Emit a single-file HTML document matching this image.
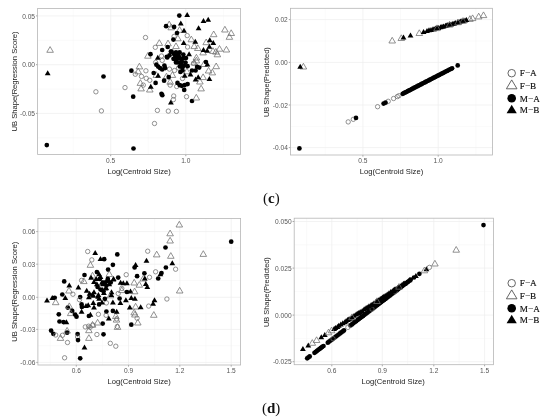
<!DOCTYPE html>
<html><head><meta charset="utf-8"><title>Figure</title>
<style>
html,body{margin:0;padding:0;background:#fff;}
body{width:550px;height:419px;overflow:hidden;}
svg{display:block;filter:blur(0.35px);}
.tk{font-family:"Liberation Sans",Arial,sans-serif;font-size:6.6px;fill:#555;}
.ti{font-family:"Liberation Sans",Arial,sans-serif;font-size:7.6px;fill:#222;}
.lg{font-family:"Liberation Serif","Times New Roman",serif;font-size:9.2px;fill:#111;stroke:#111;stroke-width:0.15px;}
.cap{font-family:"Liberation Serif","Times New Roman",serif;font-size:15px;fill:#111;}
</style></head><body>
<svg width="550" height="419" viewBox="0 0 550 419">
<rect width="550" height="419" fill="#fff"/>

<g id="tl">
<line x1="73.2" x2="73.2" y1="8.4" y2="154.6" stroke="#f5f5f5" stroke-width="0.5"/>
<line x1="148.2" x2="148.2" y1="8.4" y2="154.6" stroke="#f5f5f5" stroke-width="0.5"/>
<line x1="223.4" x2="223.4" y1="8.4" y2="154.6" stroke="#f5f5f5" stroke-width="0.5"/>
<line y1="40.3" y2="40.3" x1="37.6" x2="240.5" stroke="#f5f5f5" stroke-width="0.5"/>
<line y1="89.1" y2="89.1" x1="37.6" x2="240.5" stroke="#f5f5f5" stroke-width="0.5"/>
<line y1="137.8" y2="137.8" x1="37.6" x2="240.5" stroke="#f5f5f5" stroke-width="0.5"/>
<line x1="110.7" x2="110.7" y1="8.4" y2="154.6" stroke="#eeeeee" stroke-width="0.7"/>
<line x1="110.7" x2="110.7" y1="154.6" y2="156.2" stroke="#6a6a6a" stroke-width="0.6"/>
<text class="tk" x="110.7" y="162.7" text-anchor="middle">0.5</text>
<line x1="185.8" x2="185.8" y1="8.4" y2="154.6" stroke="#eeeeee" stroke-width="0.7"/>
<line x1="185.8" x2="185.8" y1="154.6" y2="156.2" stroke="#6a6a6a" stroke-width="0.6"/>
<text class="tk" x="185.8" y="162.7" text-anchor="middle">1.0</text>
<line y1="15.9" y2="15.9" x1="37.6" x2="240.5" stroke="#eeeeee" stroke-width="0.7"/>
<line y1="15.9" y2="15.9" x1="36.0" x2="37.6" stroke="#6a6a6a" stroke-width="0.6"/>
<text class="tk" x="35.0" y="18.5" text-anchor="end">0.05</text>
<line y1="64.7" y2="64.7" x1="37.6" x2="240.5" stroke="#eeeeee" stroke-width="0.7"/>
<line y1="64.7" y2="64.7" x1="36.0" x2="37.6" stroke="#6a6a6a" stroke-width="0.6"/>
<text class="tk" x="35.0" y="67.3" text-anchor="end">0.00</text>
<line y1="113.4" y2="113.4" x1="37.6" x2="240.5" stroke="#eeeeee" stroke-width="0.7"/>
<line y1="113.4" y2="113.4" x1="36.0" x2="37.6" stroke="#6a6a6a" stroke-width="0.6"/>
<text class="tk" x="35.0" y="116.0" text-anchor="end">-0.05</text>
<polygon points="50.1,46.6 46.8,52.3 53.4,52.3" fill="none" stroke="#6e6e6e" stroke-width="0.75"/>
<polygon points="47.7,70.3 44.8,75.3 50.6,75.3" fill="#000"/>
<circle cx="103.5" cy="76.5" r="2.35" fill="#000"/>
<circle cx="131.4" cy="70.7" r="2.35" fill="#000"/>
<circle cx="95.9" cy="91.8" r="2.2" fill="none" stroke="#6e6e6e" stroke-width="0.75"/>
<circle cx="125.0" cy="87.6" r="2.2" fill="none" stroke="#6e6e6e" stroke-width="0.75"/>
<circle cx="133.2" cy="96.7" r="2.35" fill="#000"/>
<circle cx="101.4" cy="110.9" r="2.2" fill="none" stroke="#6e6e6e" stroke-width="0.75"/>
<circle cx="46.8" cy="145.1" r="2.35" fill="#000"/>
<circle cx="133.5" cy="148.5" r="2.35" fill="#000"/>
<circle cx="157.4" cy="110.4" r="2.2" fill="none" stroke="#6e6e6e" stroke-width="0.75"/>
<circle cx="168.3" cy="111.1" r="2.2" fill="none" stroke="#6e6e6e" stroke-width="0.75"/>
<circle cx="176.4" cy="111.4" r="2.2" fill="none" stroke="#6e6e6e" stroke-width="0.75"/>
<circle cx="154.5" cy="123.5" r="2.2" fill="none" stroke="#6e6e6e" stroke-width="0.75"/>
<polygon points="170.9,99.5 168.0,104.5 173.8,104.5" fill="#000"/>
<circle cx="192.0" cy="101.0" r="2.35" fill="#000"/>
<circle cx="186.5" cy="96.7" r="2.2" fill="none" stroke="#6e6e6e" stroke-width="0.75"/>
<polygon points="196.3,94.3 193.0,100.0 199.6,100.0" fill="none" stroke="#6e6e6e" stroke-width="0.75"/>
<circle cx="173.7" cy="96.0" r="2.2" fill="none" stroke="#6e6e6e" stroke-width="0.75"/>
<circle cx="173.4" cy="99.6" r="2.2" fill="none" stroke="#6e6e6e" stroke-width="0.75"/>
<circle cx="184.2" cy="89.9" r="2.35" fill="#000"/>
<circle cx="161.5" cy="93.8" r="2.35" fill="#000"/>
<circle cx="162.3" cy="95.2" r="2.35" fill="#000"/>
<polygon points="201.1,85.2 197.8,90.9 204.4,90.9" fill="none" stroke="#6e6e6e" stroke-width="0.75"/>
<polygon points="169.2,21.1 165.9,26.8 172.5,26.8" fill="none" stroke="#6e6e6e" stroke-width="0.75"/>
<polygon points="171.2,24.1 167.9,29.8 174.5,29.8" fill="none" stroke="#6e6e6e" stroke-width="0.75"/>
<polygon points="179.6,26.6 176.3,32.3 182.9,32.3" fill="none" stroke="#6e6e6e" stroke-width="0.75"/>
<circle cx="145.5" cy="37.5" r="2.2" fill="none" stroke="#6e6e6e" stroke-width="0.75"/>
<circle cx="187.2" cy="35.6" r="2.2" fill="none" stroke="#6e6e6e" stroke-width="0.75"/>
<polygon points="191.3,36.1 188.0,41.8 194.6,41.8" fill="none" stroke="#6e6e6e" stroke-width="0.75"/>
<circle cx="174.1" cy="36.4" r="2.2" fill="none" stroke="#6e6e6e" stroke-width="0.75"/>
<polygon points="177.9,35.1 174.6,40.8 181.2,40.8" fill="none" stroke="#6e6e6e" stroke-width="0.75"/>
<polygon points="159.3,39.7 156.0,45.4 162.6,45.4" fill="none" stroke="#6e6e6e" stroke-width="0.75"/>
<polygon points="168.0,40.1 164.7,45.8 171.3,45.8" fill="none" stroke="#6e6e6e" stroke-width="0.75"/>
<circle cx="155.3" cy="47.3" r="2.2" fill="none" stroke="#6e6e6e" stroke-width="0.75"/>
<circle cx="187.6" cy="47.0" r="2.2" fill="none" stroke="#6e6e6e" stroke-width="0.75"/>
<polygon points="176.0,42.9 172.7,48.6 179.3,48.6" fill="none" stroke="#6e6e6e" stroke-width="0.75"/>
<polygon points="194.2,42.9 190.9,48.6 197.5,48.6" fill="none" stroke="#6e6e6e" stroke-width="0.75"/>
<polygon points="197.8,44.8 194.5,50.5 201.1,50.5" fill="none" stroke="#6e6e6e" stroke-width="0.75"/>
<polygon points="147.9,52.5 144.6,58.2 151.2,58.2" fill="none" stroke="#6e6e6e" stroke-width="0.75"/>
<circle cx="161.5" cy="56.0" r="2.2" fill="none" stroke="#6e6e6e" stroke-width="0.75"/>
<polygon points="196.4,54.3 193.1,60.0 199.7,60.0" fill="none" stroke="#6e6e6e" stroke-width="0.75"/>
<polygon points="194.2,59.3 190.9,65.0 197.5,65.0" fill="none" stroke="#6e6e6e" stroke-width="0.75"/>
<polygon points="139.4,63.2 136.1,68.9 142.7,68.9" fill="none" stroke="#6e6e6e" stroke-width="0.75"/>
<polygon points="224.9,26.3 221.6,32.0 228.2,32.0" fill="none" stroke="#6e6e6e" stroke-width="0.75"/>
<polygon points="231.2,29.8 227.9,35.5 234.5,35.5" fill="none" stroke="#6e6e6e" stroke-width="0.75"/>
<polygon points="229.4,33.6 226.1,39.3 232.7,39.3" fill="none" stroke="#6e6e6e" stroke-width="0.75"/>
<polygon points="213.7,31.0 210.4,36.7 217.0,36.7" fill="none" stroke="#6e6e6e" stroke-width="0.75"/>
<polygon points="206.2,39.0 202.9,44.7 209.5,44.7" fill="none" stroke="#6e6e6e" stroke-width="0.75"/>
<polygon points="219.5,45.5 216.2,51.2 222.8,51.2" fill="none" stroke="#6e6e6e" stroke-width="0.75"/>
<polygon points="226.4,46.3 223.1,52.0 229.7,52.0" fill="none" stroke="#6e6e6e" stroke-width="0.75"/>
<polygon points="213.0,47.7 209.7,53.4 216.3,53.4" fill="none" stroke="#6e6e6e" stroke-width="0.75"/>
<polygon points="215.9,48.4 212.6,54.1 219.2,54.1" fill="none" stroke="#6e6e6e" stroke-width="0.75"/>
<polygon points="217.4,51.1 214.1,56.8 220.7,56.8" fill="none" stroke="#6e6e6e" stroke-width="0.75"/>
<polygon points="203.1,49.2 199.8,54.9 206.4,54.9" fill="none" stroke="#6e6e6e" stroke-width="0.75"/>
<polygon points="204.0,60.8 200.7,66.5 207.3,66.5" fill="none" stroke="#6e6e6e" stroke-width="0.75"/>
<polygon points="216.2,63.0 212.9,68.7 219.5,68.7" fill="none" stroke="#6e6e6e" stroke-width="0.75"/>
<polygon points="196.4,57.2 193.1,62.9 199.7,62.9" fill="none" stroke="#6e6e6e" stroke-width="0.75"/>
<circle cx="193.5" cy="63.3" r="2.2" fill="none" stroke="#6e6e6e" stroke-width="0.75"/>
<circle cx="155.6" cy="62.5" r="2.2" fill="none" stroke="#6e6e6e" stroke-width="0.75"/>
<circle cx="162.2" cy="60.4" r="2.2" fill="none" stroke="#6e6e6e" stroke-width="0.75"/>
<polygon points="138.2,68.1 134.9,73.8 141.5,73.8" fill="none" stroke="#6e6e6e" stroke-width="0.75"/>
<circle cx="145.9" cy="70.8" r="2.2" fill="none" stroke="#6e6e6e" stroke-width="0.75"/>
<circle cx="135.3" cy="74.2" r="2.2" fill="none" stroke="#6e6e6e" stroke-width="0.75"/>
<circle cx="141.5" cy="76.4" r="2.2" fill="none" stroke="#6e6e6e" stroke-width="0.75"/>
<circle cx="146.2" cy="78.3" r="2.2" fill="none" stroke="#6e6e6e" stroke-width="0.75"/>
<circle cx="149.8" cy="80.3" r="2.2" fill="none" stroke="#6e6e6e" stroke-width="0.75"/>
<circle cx="169.5" cy="69.1" r="2.2" fill="none" stroke="#6e6e6e" stroke-width="0.75"/>
<polygon points="172.4,71.7 169.1,77.4 175.7,77.4" fill="none" stroke="#6e6e6e" stroke-width="0.75"/>
<polygon points="166.5,73.2 163.2,78.9 169.8,78.9" fill="none" stroke="#6e6e6e" stroke-width="0.75"/>
<polygon points="140.4,79.7 137.1,85.4 143.7,85.4" fill="none" stroke="#6e6e6e" stroke-width="0.75"/>
<circle cx="143.3" cy="85.1" r="2.2" fill="none" stroke="#6e6e6e" stroke-width="0.75"/>
<polygon points="141.1,85.2 137.8,90.9 144.4,90.9" fill="none" stroke="#6e6e6e" stroke-width="0.75"/>
<polygon points="149.8,86.3 146.5,92.0 153.1,92.0" fill="none" stroke="#6e6e6e" stroke-width="0.75"/>
<circle cx="170.2" cy="85.1" r="2.2" fill="none" stroke="#6e6e6e" stroke-width="0.75"/>
<circle cx="176.7" cy="86.5" r="2.2" fill="none" stroke="#6e6e6e" stroke-width="0.75"/>
<polygon points="170.2,78.5 166.9,84.2 173.5,84.2" fill="none" stroke="#6e6e6e" stroke-width="0.75"/>
<circle cx="182.5" cy="78.5" r="2.2" fill="none" stroke="#6e6e6e" stroke-width="0.75"/>
<polygon points="186.9,68.1 183.6,73.8 190.2,73.8" fill="none" stroke="#6e6e6e" stroke-width="0.75"/>
<polygon points="208.6,67.3 205.3,73.0 211.9,73.0" fill="none" stroke="#6e6e6e" stroke-width="0.75"/>
<polygon points="212.3,69.2 209.0,74.9 215.6,74.9" fill="none" stroke="#6e6e6e" stroke-width="0.75"/>
<polygon points="203.1,73.9 199.8,79.6 206.4,79.6" fill="none" stroke="#6e6e6e" stroke-width="0.75"/>
<polygon points="199.9,78.3 196.6,84.0 203.2,84.0" fill="none" stroke="#6e6e6e" stroke-width="0.75"/>
<polygon points="156.3,71.7 153.0,77.4 159.6,77.4" fill="none" stroke="#6e6e6e" stroke-width="0.75"/>
<circle cx="178.5" cy="68.0" r="2.2" fill="none" stroke="#6e6e6e" stroke-width="0.75"/>
<circle cx="174.5" cy="70.5" r="2.2" fill="none" stroke="#6e6e6e" stroke-width="0.75"/>
<circle cx="179.3" cy="15.6" r="2.35" fill="#000"/>
<polygon points="187.2,12.0 184.3,17.0 190.1,17.0" fill="#000"/>
<polygon points="180.8,20.5 177.9,25.5 183.7,25.5" fill="#000"/>
<circle cx="166.1" cy="26.2" r="2.35" fill="#000"/>
<circle cx="174.1" cy="26.9" r="2.35" fill="#000"/>
<polygon points="184.0,27.7 181.1,32.7 186.9,32.7" fill="#000"/>
<polygon points="198.6,25.3 195.7,30.3 201.5,30.3" fill="#000"/>
<circle cx="177.0" cy="33.0" r="2.35" fill="#000"/>
<circle cx="173.4" cy="39.6" r="2.35" fill="#000"/>
<polygon points="183.7,40.1 180.8,45.1 186.6,45.1" fill="#000"/>
<polygon points="195.3,38.8 192.4,43.8 198.2,43.8" fill="#000"/>
<circle cx="167.7" cy="47.0" r="2.35" fill="#000"/>
<circle cx="162.2" cy="50.0" r="2.35" fill="#000"/>
<circle cx="150.5" cy="54.2" r="2.35" fill="#000"/>
<polygon points="157.8,54.7 154.9,59.7 160.7,59.7" fill="#000"/>
<circle cx="166.8" cy="56.8" r="2.35" fill="#000"/>
<circle cx="170.9" cy="51.6" r="2.35" fill="#000"/>
<polygon points="189.1,51.2 186.2,56.2 192.0,56.2" fill="#000"/>
<circle cx="156.4" cy="64.7" r="2.35" fill="#000"/>
<circle cx="158.1" cy="66.6" r="2.35" fill="#000"/>
<circle cx="160.0" cy="68.1" r="2.35" fill="#000"/>
<circle cx="162.2" cy="69.5" r="2.35" fill="#000"/>
<circle cx="164.4" cy="65.5" r="2.35" fill="#000"/>
<circle cx="165.1" cy="68.1" r="2.35" fill="#000"/>
<circle cx="153.7" cy="73.0" r="2.35" fill="#000"/>
<polygon points="158.1,72.8 155.2,77.8 161.0,77.8" fill="#000"/>
<circle cx="168.7" cy="77.1" r="2.35" fill="#000"/>
<circle cx="164.1" cy="80.7" r="2.35" fill="#000"/>
<circle cx="155.6" cy="82.9" r="2.35" fill="#000"/>
<polygon points="150.8,83.7 147.9,88.7 153.7,88.7" fill="#000"/>
<circle cx="177.5" cy="82.9" r="2.35" fill="#000"/>
<circle cx="179.6" cy="85.1" r="2.35" fill="#000"/>
<circle cx="181.8" cy="85.8" r="2.35" fill="#000"/>
<circle cx="184.7" cy="85.1" r="2.35" fill="#000"/>
<circle cx="187.6" cy="84.1" r="2.35" fill="#000"/>
<circle cx="180.4" cy="72.0" r="2.35" fill="#000"/>
<circle cx="182.5" cy="70.5" r="2.35" fill="#000"/>
<polygon points="184.7,72.8 181.8,77.8 187.6,77.8" fill="#000"/>
<polygon points="190.5,71.4 187.6,76.4 193.4,76.4" fill="#000"/>
<polygon points="195.6,76.5 192.7,81.5 198.5,81.5" fill="#000"/>
<polygon points="198.2,74.3 195.3,79.3 201.1,79.3" fill="#000"/>
<polygon points="209.4,76.0 206.5,81.0 212.3,81.0" fill="#000"/>
<circle cx="192.0" cy="70.5" r="2.35" fill="#000"/>
<circle cx="195.6" cy="70.5" r="2.35" fill="#000"/>
<circle cx="197.1" cy="66.9" r="2.35" fill="#000"/>
<circle cx="199.2" cy="67.6" r="2.35" fill="#000"/>
<circle cx="171.6" cy="51.6" r="2.35" fill="#000"/>
<circle cx="176.0" cy="52.4" r="2.35" fill="#000"/>
<circle cx="179.6" cy="52.4" r="2.35" fill="#000"/>
<circle cx="183.3" cy="54.5" r="2.35" fill="#000"/>
<circle cx="175.3" cy="56.0" r="2.35" fill="#000"/>
<circle cx="178.9" cy="56.7" r="2.35" fill="#000"/>
<circle cx="183.3" cy="58.2" r="2.35" fill="#000"/>
<circle cx="176.0" cy="60.4" r="2.35" fill="#000"/>
<circle cx="178.2" cy="62.5" r="2.35" fill="#000"/>
<circle cx="181.1" cy="64.0" r="2.35" fill="#000"/>
<circle cx="184.0" cy="65.5" r="2.35" fill="#000"/>
<circle cx="187.6" cy="66.2" r="2.35" fill="#000"/>
<circle cx="176.0" cy="62.5" r="2.35" fill="#000"/>
<circle cx="167.3" cy="57.5" r="2.35" fill="#000"/>
<circle cx="169.5" cy="55.3" r="2.35" fill="#000"/>
<polygon points="203.5,18.0 200.6,23.0 206.4,23.0" fill="#000"/>
<polygon points="208.2,16.8 205.3,21.8 211.1,21.8" fill="#000"/>
<polygon points="209.8,37.2 206.9,42.2 212.7,42.2" fill="#000"/>
<polygon points="213.3,40.1 210.4,45.1 216.2,45.1" fill="#000"/>
<polygon points="209.4,43.7 206.5,48.7 212.3,48.7" fill="#000"/>
<polygon points="203.5,47.1 200.6,52.1 206.4,52.1" fill="#000"/>
<polygon points="207.2,47.7 204.3,52.7 210.1,52.7" fill="#000"/>
<circle cx="205.9" cy="62.0" r="2.35" fill="#000"/>
<polygon points="207.4,61.4 204.5,66.4 210.3,66.4" fill="#000"/>
<circle cx="178.0" cy="54.5" r="2.35" fill="#000"/>
<circle cx="180.8" cy="58.8" r="2.35" fill="#000"/>
<circle cx="177.2" cy="58.5" r="2.35" fill="#000"/>
<circle cx="181.8" cy="61.5" r="2.35" fill="#000"/>
<circle cx="179.8" cy="66.5" r="2.35" fill="#000"/>
<circle cx="185.5" cy="62.5" r="2.35" fill="#000"/>
<circle cx="174.0" cy="54.0" r="2.35" fill="#000"/>
<circle cx="173.5" cy="58.8" r="2.35" fill="#000"/>
<circle cx="186.0" cy="58.0" r="2.35" fill="#000"/>
<circle cx="182.5" cy="67.5" r="2.35" fill="#000"/>
<rect x="37.6" y="8.4" width="202.9" height="146.2" fill="none" stroke="#b6b6b6" stroke-width="0.8"/>
 <text class="ti" x="139.1" y="174.1" text-anchor="middle">Log(Centroid Size)</text>
<text class="ti" transform="translate(16.6,81.5) rotate(-90)" text-anchor="middle">UB Shape(Regression Score)</text>
</g>
<g id="tr">
<line x1="325.2" x2="325.2" y1="8.3" y2="155.0" stroke="#f5f5f5" stroke-width="0.5"/>
<line x1="400.5" x2="400.5" y1="8.3" y2="155.0" stroke="#f5f5f5" stroke-width="0.5"/>
<line x1="475.9" x2="475.9" y1="8.3" y2="155.0" stroke="#f5f5f5" stroke-width="0.5"/>
<line y1="41.0" y2="41.0" x1="290.4" x2="492.6" stroke="#f5f5f5" stroke-width="0.5"/>
<line y1="83.8" y2="83.8" x1="290.4" x2="492.6" stroke="#f5f5f5" stroke-width="0.5"/>
<line y1="126.4" y2="126.4" x1="290.4" x2="492.6" stroke="#f5f5f5" stroke-width="0.5"/>
<line x1="362.9" x2="362.9" y1="8.3" y2="155.0" stroke="#eeeeee" stroke-width="0.7"/>
<line x1="362.9" x2="362.9" y1="155.0" y2="156.6" stroke="#6a6a6a" stroke-width="0.6"/>
<text class="tk" x="362.9" y="163.1" text-anchor="middle">0.5</text>
<line x1="438.2" x2="438.2" y1="8.3" y2="155.0" stroke="#eeeeee" stroke-width="0.7"/>
<line x1="438.2" x2="438.2" y1="155.0" y2="156.6" stroke="#6a6a6a" stroke-width="0.6"/>
<text class="tk" x="438.2" y="163.1" text-anchor="middle">1.0</text>
<line y1="19.6" y2="19.6" x1="290.4" x2="492.6" stroke="#eeeeee" stroke-width="0.7"/>
<line y1="19.6" y2="19.6" x1="288.79999999999995" x2="290.4" stroke="#6a6a6a" stroke-width="0.6"/>
<text class="tk" x="287.79999999999995" y="22.2" text-anchor="end">0.02</text>
<line y1="62.4" y2="62.4" x1="290.4" x2="492.6" stroke="#eeeeee" stroke-width="0.7"/>
<line y1="62.4" y2="62.4" x1="288.79999999999995" x2="290.4" stroke="#6a6a6a" stroke-width="0.6"/>
<text class="tk" x="287.79999999999995" y="65.0" text-anchor="end">0.00</text>
<line y1="105.0" y2="105.0" x1="290.4" x2="492.6" stroke="#eeeeee" stroke-width="0.7"/>
<line y1="105.0" y2="105.0" x1="288.79999999999995" x2="290.4" stroke="#6a6a6a" stroke-width="0.6"/>
<text class="tk" x="287.79999999999995" y="107.6" text-anchor="end">-0.02</text>
<line y1="147.6" y2="147.6" x1="290.4" x2="492.6" stroke="#eeeeee" stroke-width="0.7"/>
<line y1="147.6" y2="147.6" x1="288.79999999999995" x2="290.4" stroke="#6a6a6a" stroke-width="0.6"/>
<text class="tk" x="287.79999999999995" y="150.2" text-anchor="end">-0.04</text>
<polygon points="392.2,37.3 388.9,43.0 395.5,43.0" fill="none" stroke="#6e6e6e" stroke-width="0.75"/>
<polygon points="401.3,34.8 398.0,40.5 404.6,40.5" fill="none" stroke="#6e6e6e" stroke-width="0.75"/>
<polygon points="419.3,29.8 416.0,35.5 422.6,35.5" fill="none" stroke="#6e6e6e" stroke-width="0.75"/>
<polygon points="469.9,15.7 466.6,21.4 473.2,21.4" fill="none" stroke="#6e6e6e" stroke-width="0.75"/>
<polygon points="472.6,14.9 469.3,20.6 475.9,20.6" fill="none" stroke="#6e6e6e" stroke-width="0.75"/>
<polygon points="478.7,13.2 475.4,18.9 482.0,18.9" fill="none" stroke="#6e6e6e" stroke-width="0.75"/>
<polygon points="483.5,11.9 480.2,17.6 486.8,17.6" fill="none" stroke="#6e6e6e" stroke-width="0.75"/>
<polygon points="427.0,27.9 424.1,32.9 429.9,32.9" fill="#000"/>
<polygon points="429.0,27.3 426.1,32.3 431.9,32.3" fill="#000"/>
<polygon points="431.0,26.9 428.1,31.9 433.9,31.9" fill="#000"/>
<polygon points="433.0,26.2 430.1,31.2 435.9,31.2" fill="#000"/>
<polygon points="434.2,26.2 431.3,31.2 437.1,31.2" fill="#000"/>
<polygon points="435.6,25.5 432.7,30.5 438.5,30.5" fill="#000"/>
<polygon points="437.1,25.1 434.2,30.1 440.0,30.1" fill="#000"/>
<polygon points="438.5,24.9 435.6,29.9 441.4,29.9" fill="#000"/>
<polygon points="440.5,24.3 437.6,29.3 443.4,29.3" fill="#000"/>
<polygon points="442.0,23.7 439.1,28.7 444.9,28.7" fill="#000"/>
<polygon points="443.5,23.6 440.6,28.6 446.4,28.6" fill="#000"/>
<polygon points="445.5,22.8 442.6,27.8 448.4,27.8" fill="#000"/>
<polygon points="446.7,22.6 443.8,27.6 449.6,27.6" fill="#000"/>
<polygon points="447.9,22.0 445.0,27.0 450.8,27.0" fill="#000"/>
<polygon points="449.9,21.4 447.0,26.4 452.8,26.4" fill="#000"/>
<polygon points="451.1,21.5 448.2,26.5 454.0,26.5" fill="#000"/>
<polygon points="452.9,20.8 450.0,25.8 455.8,25.8" fill="#000"/>
<polygon points="454.3,20.5 451.4,25.5 457.2,25.5" fill="#000"/>
<polygon points="455.7,20.0 452.8,25.0 458.6,25.0" fill="#000"/>
<polygon points="457.7,19.5 454.8,24.5 460.6,24.5" fill="#000"/>
<polygon points="459.2,19.3 456.3,24.3 462.1,24.3" fill="#000"/>
<polygon points="460.4,18.5 457.5,23.5 463.3,23.5" fill="#000"/>
<polygon points="461.8,18.2 458.9,23.2 464.7,23.2" fill="#000"/>
<polygon points="463.2,18.1 460.3,23.1 466.1,23.1" fill="#000"/>
<polygon points="465.0,17.4 462.1,22.4 467.9,22.4" fill="#000"/>
<polygon points="466.4,17.1 463.5,22.1 469.3,22.1" fill="#000"/>
<polygon points="403.5,34.6 400.6,39.6 406.4,39.6" fill="#000"/>
<polygon points="410.5,32.6 407.6,37.6 413.4,37.6" fill="#000"/>
<polygon points="423.6,29.0 420.7,34.0 426.5,34.0" fill="#000"/>
<polygon points="437.0,24.9 433.7,30.6 440.3,30.6" fill="none" stroke="#6e6e6e" stroke-width="0.75"/>
<polygon points="449.5,21.4 446.2,27.1 452.8,27.1" fill="none" stroke="#6e6e6e" stroke-width="0.75"/>
<polygon points="458.0,19.0 454.7,24.7 461.3,24.7" fill="none" stroke="#6e6e6e" stroke-width="0.75"/>
<polygon points="463.0,17.6 459.7,23.3 466.3,23.3" fill="none" stroke="#6e6e6e" stroke-width="0.75"/>
<circle cx="348.2" cy="121.9" r="2.2" fill="none" stroke="#6e6e6e" stroke-width="0.75"/>
<circle cx="353.3" cy="119.3" r="2.2" fill="none" stroke="#6e6e6e" stroke-width="0.75"/>
<circle cx="377.6" cy="106.7" r="2.2" fill="none" stroke="#6e6e6e" stroke-width="0.75"/>
<circle cx="388.2" cy="101.3" r="2.2" fill="none" stroke="#6e6e6e" stroke-width="0.75"/>
<circle cx="393.6" cy="98.5" r="2.2" fill="none" stroke="#6e6e6e" stroke-width="0.75"/>
<circle cx="397.3" cy="96.6" r="2.2" fill="none" stroke="#6e6e6e" stroke-width="0.75"/>
<circle cx="398.9" cy="95.7" r="2.2" fill="none" stroke="#6e6e6e" stroke-width="0.75"/>
<circle cx="356.0" cy="117.9" r="2.35" fill="#000"/>
<circle cx="383.6" cy="103.6" r="2.35" fill="#000"/>
<circle cx="385.5" cy="102.7" r="2.35" fill="#000"/>
<circle cx="457.7" cy="65.4" r="2.35" fill="#000"/>
<circle cx="402.7" cy="93.8" r="2.35" fill="#000"/>
<circle cx="404.0" cy="93.1" r="2.35" fill="#000"/>
<circle cx="405.3" cy="92.4" r="2.35" fill="#000"/>
<circle cx="406.6" cy="91.8" r="2.35" fill="#000"/>
<circle cx="407.9" cy="91.1" r="2.35" fill="#000"/>
<circle cx="409.2" cy="90.4" r="2.35" fill="#000"/>
<circle cx="410.5" cy="89.8" r="2.35" fill="#000"/>
<circle cx="411.8" cy="89.1" r="2.35" fill="#000"/>
<circle cx="413.1" cy="88.4" r="2.35" fill="#000"/>
<circle cx="414.4" cy="87.7" r="2.35" fill="#000"/>
<circle cx="415.7" cy="87.1" r="2.35" fill="#000"/>
<circle cx="417.0" cy="86.4" r="2.35" fill="#000"/>
<circle cx="418.3" cy="85.7" r="2.35" fill="#000"/>
<circle cx="419.6" cy="85.1" r="2.35" fill="#000"/>
<circle cx="420.9" cy="84.4" r="2.35" fill="#000"/>
<circle cx="422.2" cy="83.7" r="2.35" fill="#000"/>
<circle cx="423.5" cy="83.0" r="2.35" fill="#000"/>
<circle cx="424.8" cy="82.4" r="2.35" fill="#000"/>
<circle cx="426.1" cy="81.7" r="2.35" fill="#000"/>
<circle cx="427.4" cy="81.0" r="2.35" fill="#000"/>
<circle cx="428.7" cy="80.4" r="2.35" fill="#000"/>
<circle cx="430.0" cy="79.7" r="2.35" fill="#000"/>
<circle cx="431.3" cy="79.0" r="2.35" fill="#000"/>
<circle cx="432.6" cy="78.3" r="2.35" fill="#000"/>
<circle cx="433.9" cy="77.7" r="2.35" fill="#000"/>
<circle cx="435.2" cy="77.0" r="2.35" fill="#000"/>
<circle cx="436.5" cy="76.3" r="2.35" fill="#000"/>
<circle cx="437.8" cy="75.7" r="2.35" fill="#000"/>
<circle cx="439.1" cy="75.0" r="2.35" fill="#000"/>
<circle cx="440.4" cy="74.3" r="2.35" fill="#000"/>
<circle cx="441.7" cy="73.7" r="2.35" fill="#000"/>
<circle cx="443.0" cy="73.0" r="2.35" fill="#000"/>
<circle cx="444.3" cy="72.3" r="2.35" fill="#000"/>
<circle cx="445.6" cy="71.6" r="2.35" fill="#000"/>
<circle cx="446.9" cy="71.0" r="2.35" fill="#000"/>
<circle cx="448.2" cy="70.3" r="2.35" fill="#000"/>
<circle cx="449.5" cy="69.6" r="2.35" fill="#000"/>
<circle cx="450.8" cy="69.0" r="2.35" fill="#000"/>
<circle cx="452.1" cy="68.3" r="2.35" fill="#000"/>
<polygon points="303.4,63.3 300.1,69.0 306.7,69.0" fill="none" stroke="#6e6e6e" stroke-width="0.75"/>
<polygon points="300.2,63.7 297.3,68.7 303.1,68.7" fill="#000"/>
<circle cx="299.4" cy="148.4" r="2.35" fill="#000"/>
<rect x="290.4" y="8.3" width="202.2" height="146.7" fill="none" stroke="#b6b6b6" stroke-width="0.8"/>
 <text class="ti" x="391.5" y="174.0" text-anchor="middle">Log(Centroid Size)</text>
<text class="ti" style="font-size:7.4px" transform="translate(268.8,82.2) rotate(-90)" text-anchor="middle">UB Shape(Predicted)</text>
</g>
<g id="bl">
<line x1="50.2" x2="50.2" y1="218.4" y2="365.0" stroke="#f5f5f5" stroke-width="0.5"/>
<line x1="102.4" x2="102.4" y1="218.4" y2="365.0" stroke="#f5f5f5" stroke-width="0.5"/>
<line x1="154.6" x2="154.6" y1="218.4" y2="365.0" stroke="#f5f5f5" stroke-width="0.5"/>
<line x1="205.9" x2="205.9" y1="218.4" y2="365.0" stroke="#f5f5f5" stroke-width="0.5"/>
<line y1="247.9" y2="247.9" x1="37.9" x2="240.6" stroke="#f5f5f5" stroke-width="0.5"/>
<line y1="280.5" y2="280.5" x1="37.9" x2="240.6" stroke="#f5f5f5" stroke-width="0.5"/>
<line y1="313.6" y2="313.6" x1="37.9" x2="240.6" stroke="#f5f5f5" stroke-width="0.5"/>
<line y1="345.7" y2="345.7" x1="37.9" x2="240.6" stroke="#f5f5f5" stroke-width="0.5"/>
<line x1="76.3" x2="76.3" y1="218.4" y2="365.0" stroke="#eeeeee" stroke-width="0.7"/>
<line x1="76.3" x2="76.3" y1="365.0" y2="366.6" stroke="#6a6a6a" stroke-width="0.6"/>
<text class="tk" x="76.3" y="373.1" text-anchor="middle">0.6</text>
<line x1="128.5" x2="128.5" y1="218.4" y2="365.0" stroke="#eeeeee" stroke-width="0.7"/>
<line x1="128.5" x2="128.5" y1="365.0" y2="366.6" stroke="#6a6a6a" stroke-width="0.6"/>
<text class="tk" x="128.5" y="373.1" text-anchor="middle">0.9</text>
<line x1="179.8" x2="179.8" y1="218.4" y2="365.0" stroke="#eeeeee" stroke-width="0.7"/>
<line x1="179.8" x2="179.8" y1="365.0" y2="366.6" stroke="#6a6a6a" stroke-width="0.6"/>
<text class="tk" x="179.8" y="373.1" text-anchor="middle">1.2</text>
<line x1="231.2" x2="231.2" y1="218.4" y2="365.0" stroke="#eeeeee" stroke-width="0.7"/>
<line x1="231.2" x2="231.2" y1="365.0" y2="366.6" stroke="#6a6a6a" stroke-width="0.6"/>
<text class="tk" x="231.2" y="373.1" text-anchor="middle">1.5</text>
<line y1="231.6" y2="231.6" x1="37.9" x2="240.6" stroke="#eeeeee" stroke-width="0.7"/>
<line y1="231.6" y2="231.6" x1="36.3" x2="37.9" stroke="#6a6a6a" stroke-width="0.6"/>
<text class="tk" x="35.3" y="234.2" text-anchor="end">0.06</text>
<line y1="264.2" y2="264.2" x1="37.9" x2="240.6" stroke="#eeeeee" stroke-width="0.7"/>
<line y1="264.2" y2="264.2" x1="36.3" x2="37.9" stroke="#6a6a6a" stroke-width="0.6"/>
<text class="tk" x="35.3" y="266.8" text-anchor="end">0.03</text>
<line y1="297.3" y2="297.3" x1="37.9" x2="240.6" stroke="#eeeeee" stroke-width="0.7"/>
<line y1="297.3" y2="297.3" x1="36.3" x2="37.9" stroke="#6a6a6a" stroke-width="0.6"/>
<text class="tk" x="35.3" y="299.9" text-anchor="end">0.00</text>
<line y1="329.4" y2="329.4" x1="37.9" x2="240.6" stroke="#eeeeee" stroke-width="0.7"/>
<line y1="329.4" y2="329.4" x1="36.3" x2="37.9" stroke="#6a6a6a" stroke-width="0.6"/>
<text class="tk" x="35.3" y="332.0" text-anchor="end">-0.03</text>
<line y1="362.4" y2="362.4" x1="37.9" x2="240.6" stroke="#eeeeee" stroke-width="0.7"/>
<line y1="362.4" y2="362.4" x1="36.3" x2="37.9" stroke="#6a6a6a" stroke-width="0.6"/>
<text class="tk" x="35.3" y="365.0" text-anchor="end">-0.06</text>
<circle cx="87.7" cy="251.5" r="2.2" fill="none" stroke="#6e6e6e" stroke-width="0.75"/>
<polygon points="95.2,250.1 92.3,255.1 98.1,255.1" fill="#000"/>
<polygon points="100.5,255.9 97.6,260.9 103.4,260.9" fill="#000"/>
<circle cx="104.2" cy="259.2" r="2.35" fill="#000"/>
<circle cx="91.8" cy="259.9" r="2.2" fill="none" stroke="#6e6e6e" stroke-width="0.75"/>
<polygon points="90.4,261.6 87.1,267.3 93.7,267.3" fill="none" stroke="#6e6e6e" stroke-width="0.75"/>
<circle cx="117.3" cy="254.4" r="2.35" fill="#000"/>
<circle cx="112.9" cy="264.8" r="2.35" fill="#000"/>
<circle cx="108.1" cy="269.6" r="2.35" fill="#000"/>
<circle cx="96.9" cy="272.1" r="2.35" fill="#000"/>
<polygon points="99.1,271.2 96.2,276.2 102.0,276.2" fill="#000"/>
<circle cx="84.5" cy="275.0" r="2.35" fill="#000"/>
<polygon points="92.5,272.3 89.2,278.0 95.8,278.0" fill="none" stroke="#6e6e6e" stroke-width="0.75"/>
<polygon points="109.3,270.8 106.0,276.5 112.6,276.5" fill="none" stroke="#6e6e6e" stroke-width="0.75"/>
<polygon points="179.3,221.3 176.0,227.0 182.6,227.0" fill="none" stroke="#6e6e6e" stroke-width="0.75"/>
<polygon points="170.1,230.1 166.8,235.8 173.4,235.8" fill="none" stroke="#6e6e6e" stroke-width="0.75"/>
<polygon points="170.1,237.3 166.8,243.0 173.4,243.0" fill="none" stroke="#6e6e6e" stroke-width="0.75"/>
<circle cx="165.5" cy="247.5" r="2.35" fill="#000"/>
<circle cx="147.7" cy="251.2" r="2.2" fill="none" stroke="#6e6e6e" stroke-width="0.75"/>
<polygon points="156.7,251.2 153.4,256.9 160.0,256.9" fill="none" stroke="#6e6e6e" stroke-width="0.75"/>
<polygon points="170.8,252.6 167.5,258.3 174.1,258.3" fill="none" stroke="#6e6e6e" stroke-width="0.75"/>
<polygon points="146.5,257.8 143.6,262.8 149.4,262.8" fill="#000"/>
<polygon points="172.3,260.3 169.4,265.3 175.2,265.3" fill="#000"/>
<polygon points="135.6,262.0 132.7,267.0 138.5,267.0" fill="#000"/>
<circle cx="134.6" cy="267.5" r="2.35" fill="#000"/>
<circle cx="165.9" cy="267.5" r="2.35" fill="#000"/>
<circle cx="175.6" cy="269.2" r="2.2" fill="none" stroke="#6e6e6e" stroke-width="0.75"/>
<circle cx="155.6" cy="271.8" r="2.2" fill="none" stroke="#6e6e6e" stroke-width="0.75"/>
<circle cx="161.5" cy="273.0" r="2.35" fill="#000"/>
<polygon points="160.4,271.2 157.5,276.2 163.3,276.2" fill="#000"/>
<circle cx="144.4" cy="273.3" r="2.35" fill="#000"/>
<circle cx="126.2" cy="274.7" r="2.2" fill="none" stroke="#6e6e6e" stroke-width="0.75"/>
<circle cx="137.1" cy="276.2" r="2.35" fill="#000"/>
<circle cx="118.2" cy="277.6" r="2.35" fill="#000"/>
<circle cx="149.5" cy="277.3" r="2.2" fill="none" stroke="#6e6e6e" stroke-width="0.75"/>
<polygon points="203.3,250.7 200.0,256.4 206.6,256.4" fill="none" stroke="#6e6e6e" stroke-width="0.75"/>
<circle cx="231.2" cy="241.7" r="2.35" fill="#000"/>
<polygon points="91.1,274.7 88.2,279.7 94.0,279.7" fill="#000"/>
<circle cx="64.2" cy="281.4" r="2.35" fill="#000"/>
<circle cx="81.6" cy="280.4" r="2.2" fill="none" stroke="#6e6e6e" stroke-width="0.75"/>
<polygon points="83.8,277.9 80.5,283.6 87.1,283.6" fill="none" stroke="#6e6e6e" stroke-width="0.75"/>
<polygon points="69.3,282.4 66.4,287.4 72.2,287.4" fill="#000"/>
<polygon points="78.4,284.4 75.5,289.4 81.3,289.4" fill="#000"/>
<polygon points="69.0,287.3 65.7,293.0 72.3,293.0" fill="none" stroke="#6e6e6e" stroke-width="0.75"/>
<circle cx="72.9" cy="294.2" r="2.2" fill="none" stroke="#6e6e6e" stroke-width="0.75"/>
<polygon points="86.7,287.7 83.8,292.7 89.6,292.7" fill="#000"/>
<circle cx="62.3" cy="294.5" r="2.35" fill="#000"/>
<polygon points="65.3,295.0 62.4,300.0 68.2,300.0" fill="#000"/>
<circle cx="80.2" cy="297.1" r="2.35" fill="#000"/>
<circle cx="79.5" cy="299.7" r="2.2" fill="none" stroke="#6e6e6e" stroke-width="0.75"/>
<polygon points="47.0,297.5 44.1,302.5 49.9,302.5" fill="#000"/>
<polygon points="52.3,295.0 49.4,300.0 55.2,300.0" fill="#000"/>
<circle cx="54.7" cy="297.8" r="2.35" fill="#000"/>
<polygon points="55.7,299.0 52.4,304.7 59.0,304.7" fill="none" stroke="#6e6e6e" stroke-width="0.75"/>
<circle cx="67.8" cy="307.6" r="2.35" fill="#000"/>
<polygon points="69.3,302.9 66.0,308.6 72.6,308.6" fill="none" stroke="#6e6e6e" stroke-width="0.75"/>
<circle cx="72.2" cy="310.9" r="2.35" fill="#000"/>
<polygon points="70.7,309.9 67.4,315.6 74.0,315.6" fill="none" stroke="#6e6e6e" stroke-width="0.75"/>
<circle cx="58.8" cy="314.3" r="2.35" fill="#000"/>
<circle cx="75.1" cy="314.5" r="2.35" fill="#000"/>
<circle cx="76.5" cy="316.7" r="2.35" fill="#000"/>
<circle cx="59.5" cy="321.5" r="2.35" fill="#000"/>
<circle cx="63.5" cy="322.1" r="2.35" fill="#000"/>
<polygon points="66.4,319.3 63.5,324.3 69.3,324.3" fill="#000"/>
<circle cx="81.6" cy="304.4" r="2.35" fill="#000"/>
<circle cx="81.9" cy="307.0" r="2.35" fill="#000"/>
<polygon points="81.6,308.8 78.7,313.8 84.5,313.8" fill="#000"/>
<polygon points="90.4,311.7 87.5,316.7 93.3,316.7" fill="#000"/>
<circle cx="88.9" cy="316.0" r="2.35" fill="#000"/>
<circle cx="98.4" cy="314.3" r="2.2" fill="none" stroke="#6e6e6e" stroke-width="0.75"/>
<circle cx="106.4" cy="311.6" r="2.35" fill="#000"/>
<circle cx="106.1" cy="315.3" r="2.2" fill="none" stroke="#6e6e6e" stroke-width="0.75"/>
<polygon points="108.8,315.4 105.9,320.4 111.7,320.4" fill="#000"/>
<circle cx="102.7" cy="323.6" r="2.35" fill="#000"/>
<polygon points="97.6,319.3 94.3,325.0 100.9,325.0" fill="none" stroke="#6e6e6e" stroke-width="0.75"/>
<polygon points="92.5,321.5 89.2,327.2 95.8,327.2" fill="none" stroke="#6e6e6e" stroke-width="0.75"/>
<circle cx="85.3" cy="326.9" r="2.2" fill="none" stroke="#6e6e6e" stroke-width="0.75"/>
<circle cx="88.6" cy="326.2" r="2.2" fill="none" stroke="#6e6e6e" stroke-width="0.75"/>
<circle cx="112.9" cy="310.9" r="2.35" fill="#000"/>
<polygon points="115.8,312.8 112.5,318.5 119.1,318.5" fill="none" stroke="#6e6e6e" stroke-width="0.75"/>
<polygon points="116.5,316.4 113.2,322.1 119.8,322.1" fill="none" stroke="#6e6e6e" stroke-width="0.75"/>
<polygon points="112.9,299.4 110.0,304.4 115.8,304.4" fill="#000"/>
<circle cx="106.4" cy="302.9" r="2.2" fill="none" stroke="#6e6e6e" stroke-width="0.75"/>
<circle cx="104.9" cy="298.8" r="2.35" fill="#000"/>
<polygon points="111.5,289.2 108.6,294.2 114.4,294.2" fill="#000"/>
<polygon points="110.4,292.1 107.1,297.8 113.7,297.8" fill="none" stroke="#6e6e6e" stroke-width="0.75"/>
<polygon points="113.6,276.1 110.7,281.1 116.5,281.1" fill="#000"/>
<polygon points="94.0,279.0 91.1,284.0 96.9,284.0" fill="#000"/>
<polygon points="96.2,276.1 93.3,281.1 99.1,281.1" fill="#000"/>
<polygon points="100.5,273.9 97.6,278.9 103.4,278.9" fill="#000"/>
<polygon points="96.9,281.2 94.0,286.2 99.8,286.2" fill="#000"/>
<polygon points="102.0,279.7 99.1,284.7 104.9,284.7" fill="#000"/>
<polygon points="106.4,278.3 103.5,283.3 109.3,283.3" fill="#000"/>
<polygon points="109.3,281.2 106.4,286.2 112.2,286.2" fill="#000"/>
<polygon points="89.6,290.7 86.7,295.7 92.5,295.7" fill="#000"/>
<polygon points="94.0,289.2 91.1,294.2 96.9,294.2" fill="#000"/>
<polygon points="88.9,294.3 86.0,299.3 91.8,299.3" fill="#000"/>
<polygon points="93.3,292.8 90.4,297.8 96.2,297.8" fill="#000"/>
<polygon points="98.4,292.1 95.5,297.1 101.3,297.1" fill="#000"/>
<polygon points="102.7,287.0 99.8,292.0 105.6,292.0" fill="#000"/>
<polygon points="105.6,285.6 102.7,290.6 108.5,290.6" fill="#000"/>
<polygon points="99.1,295.7 96.2,300.7 102.0,300.7" fill="#000"/>
<polygon points="93.3,300.1 90.4,305.1 96.2,305.1" fill="#000"/>
<polygon points="88.2,302.3 85.3,307.3 91.1,307.3" fill="#000"/>
<polygon points="94.0,304.5 91.1,309.5 96.9,309.5" fill="#000"/>
<polygon points="86.0,303.0 83.1,308.0 88.9,308.0" fill="#000"/>
<polygon points="102.0,299.4 99.1,304.4 104.9,304.4" fill="#000"/>
<circle cx="99.8" cy="278.9" r="2.35" fill="#000"/>
<circle cx="104.9" cy="282.5" r="2.35" fill="#000"/>
<circle cx="107.8" cy="278.9" r="2.35" fill="#000"/>
<circle cx="103.5" cy="291.3" r="2.35" fill="#000"/>
<circle cx="110.7" cy="282.5" r="2.35" fill="#000"/>
<circle cx="99.1" cy="304.4" r="2.35" fill="#000"/>
<circle cx="97.6" cy="286.9" r="2.35" fill="#000"/>
<circle cx="106.4" cy="285.5" r="2.35" fill="#000"/>
<polygon points="143.3,275.3 140.0,281.0 146.6,281.0" fill="none" stroke="#6e6e6e" stroke-width="0.75"/>
<polygon points="144.8,275.4 141.9,280.4 147.7,280.4" fill="#000"/>
<circle cx="158.2" cy="278.5" r="2.35" fill="#000"/>
<polygon points="145.8,280.9 142.9,285.9 148.7,285.9" fill="#000"/>
<polygon points="147.3,284.1 144.4,289.1 150.2,289.1" fill="#000"/>
<polygon points="134.2,279.3 130.9,285.0 137.5,285.0" fill="none" stroke="#6e6e6e" stroke-width="0.75"/>
<polygon points="139.3,281.5 136.0,287.2 142.6,287.2" fill="none" stroke="#6e6e6e" stroke-width="0.75"/>
<polygon points="126.9,280.3 124.0,285.3 129.8,285.3" fill="#000"/>
<polygon points="123.3,280.3 120.4,285.3 126.2,285.3" fill="#000"/>
<polygon points="108.7,277.6 105.8,282.6 111.6,282.6" fill="#000"/>
<circle cx="102.9" cy="282.5" r="2.35" fill="#000"/>
<circle cx="121.8" cy="288.4" r="2.2" fill="none" stroke="#6e6e6e" stroke-width="0.75"/>
<polygon points="121.8,286.9 118.5,292.6 125.1,292.6" fill="none" stroke="#6e6e6e" stroke-width="0.75"/>
<polygon points="111.3,292.1 108.4,297.1 114.2,297.1" fill="#000"/>
<circle cx="118.2" cy="293.5" r="2.2" fill="none" stroke="#6e6e6e" stroke-width="0.75"/>
<circle cx="126.9" cy="292.0" r="2.35" fill="#000"/>
<polygon points="130.5,288.5 127.6,293.5 133.4,293.5" fill="#000"/>
<polygon points="134.6,288.1 131.3,293.8 137.9,293.8" fill="none" stroke="#6e6e6e" stroke-width="0.75"/>
<polygon points="131.3,295.0 128.4,300.0 134.2,300.0" fill="#000"/>
<polygon points="134.9,295.7 132.0,300.7 137.8,300.7" fill="#000"/>
<circle cx="119.6" cy="298.5" r="2.35" fill="#000"/>
<polygon points="125.9,297.2 123.0,302.2 128.8,302.2" fill="#000"/>
<polygon points="120.4,300.1 117.5,305.1 123.3,305.1" fill="#000"/>
<polygon points="154.5,297.2 151.6,302.2 157.4,302.2" fill="#000"/>
<polygon points="153.1,300.8 150.2,305.8 156.0,305.8" fill="#000"/>
<circle cx="166.9" cy="299.0" r="2.2" fill="none" stroke="#6e6e6e" stroke-width="0.75"/>
<polygon points="179.7,287.3 176.4,293.0 183.0,293.0" fill="none" stroke="#6e6e6e" stroke-width="0.75"/>
<circle cx="148.7" cy="306.1" r="2.2" fill="none" stroke="#6e6e6e" stroke-width="0.75"/>
<polygon points="129.8,304.5 126.9,309.5 132.7,309.5" fill="#000"/>
<polygon points="135.6,303.3 132.3,309.0 138.9,309.0" fill="none" stroke="#6e6e6e" stroke-width="0.75"/>
<polygon points="140.7,304.2 137.8,309.2 143.6,309.2" fill="#000"/>
<polygon points="116.7,308.8 113.8,313.8 119.6,313.8" fill="#000"/>
<polygon points="134.2,309.2 130.9,314.9 137.5,314.9" fill="none" stroke="#6e6e6e" stroke-width="0.75"/>
<polygon points="134.9,311.3 131.6,317.0 138.2,317.0" fill="none" stroke="#6e6e6e" stroke-width="0.75"/>
<circle cx="137.1" cy="318.2" r="2.2" fill="none" stroke="#6e6e6e" stroke-width="0.75"/>
<polygon points="153.8,311.6 150.5,317.3 157.1,317.3" fill="none" stroke="#6e6e6e" stroke-width="0.75"/>
<circle cx="116.7" cy="318.9" r="2.2" fill="none" stroke="#6e6e6e" stroke-width="0.75"/>
<polygon points="137.8,319.3 134.5,325.0 141.1,325.0" fill="none" stroke="#6e6e6e" stroke-width="0.75"/>
<circle cx="131.3" cy="324.7" r="2.35" fill="#000"/>
<polygon points="117.5,323.7 114.2,329.4 120.8,329.4" fill="none" stroke="#6e6e6e" stroke-width="0.75"/>
<circle cx="51.1" cy="330.6" r="2.35" fill="#000"/>
<circle cx="53.3" cy="333.8" r="2.35" fill="#000"/>
<circle cx="55.7" cy="335.0" r="2.2" fill="none" stroke="#6e6e6e" stroke-width="0.75"/>
<polygon points="60.5,334.7 57.2,340.4 63.8,340.4" fill="none" stroke="#6e6e6e" stroke-width="0.75"/>
<circle cx="62.4" cy="335.3" r="2.2" fill="none" stroke="#6e6e6e" stroke-width="0.75"/>
<circle cx="67.1" cy="332.7" r="2.35" fill="#000"/>
<polygon points="67.1,327.4 63.8,333.1 70.4,333.1" fill="none" stroke="#6e6e6e" stroke-width="0.75"/>
<circle cx="67.5" cy="342.5" r="2.2" fill="none" stroke="#6e6e6e" stroke-width="0.75"/>
<circle cx="77.6" cy="334.1" r="2.35" fill="#000"/>
<circle cx="77.6" cy="337.0" r="2.2" fill="none" stroke="#6e6e6e" stroke-width="0.75"/>
<circle cx="78.0" cy="340.1" r="2.35" fill="#000"/>
<polygon points="84.5,344.5 81.6,349.5 87.4,349.5" fill="#000"/>
<circle cx="64.6" cy="357.8" r="2.2" fill="none" stroke="#6e6e6e" stroke-width="0.75"/>
<circle cx="80.2" cy="358.3" r="2.35" fill="#000"/>
<polygon points="88.9,334.7 85.6,340.4 92.2,340.4" fill="none" stroke="#6e6e6e" stroke-width="0.75"/>
<polygon points="88.9,327.0 85.6,332.7 92.2,332.7" fill="none" stroke="#6e6e6e" stroke-width="0.75"/>
<circle cx="90.1" cy="327.3" r="2.2" fill="none" stroke="#6e6e6e" stroke-width="0.75"/>
<circle cx="93.0" cy="325.1" r="2.2" fill="none" stroke="#6e6e6e" stroke-width="0.75"/>
<circle cx="96.9" cy="334.5" r="2.2" fill="none" stroke="#6e6e6e" stroke-width="0.75"/>
<circle cx="103.5" cy="334.3" r="2.35" fill="#000"/>
<circle cx="110.3" cy="343.3" r="2.2" fill="none" stroke="#6e6e6e" stroke-width="0.75"/>
<circle cx="115.8" cy="346.2" r="2.2" fill="none" stroke="#6e6e6e" stroke-width="0.75"/>
<circle cx="117.3" cy="326.5" r="2.2" fill="none" stroke="#6e6e6e" stroke-width="0.75"/>
<polygon points="113.4,276.5 110.5,281.5 116.3,281.5" fill="#000"/>
<polygon points="120.6,279.8 117.7,284.8 123.5,284.8" fill="#000"/>
<polygon points="102.9,281.3 100.0,286.3 105.8,286.3" fill="#000"/>
<polygon points="106.2,285.1 103.3,290.1 109.1,290.1" fill="#000"/>
<polygon points="103.9,289.9 101.0,294.9 106.8,294.9" fill="#000"/>
<polygon points="98.1,293.7 95.2,298.7 101.0,298.7" fill="#000"/>
<polygon points="92.4,291.8 89.5,296.8 95.3,296.8" fill="#000"/>
<circle cx="100.5" cy="289.5" r="2.35" fill="#000"/>
<rect x="37.9" y="218.4" width="202.7" height="146.6" fill="none" stroke="#b6b6b6" stroke-width="0.8"/>
 <text class="ti" x="139.2" y="383.9" text-anchor="middle">Log(Centroid Size)</text>
<text class="ti" transform="translate(16.6,291.7) rotate(-90)" text-anchor="middle">UB Shape(Regression Score)</text>
</g>
<g id="br">
<line x1="306.6" x2="306.6" y1="218.2" y2="364.7" stroke="#f5f5f5" stroke-width="0.5"/>
<line x1="357.1" x2="357.1" y1="218.2" y2="364.7" stroke="#f5f5f5" stroke-width="0.5"/>
<line x1="407.6" x2="407.6" y1="218.2" y2="364.7" stroke="#f5f5f5" stroke-width="0.5"/>
<line x1="459.1" x2="459.1" y1="218.2" y2="364.7" stroke="#f5f5f5" stroke-width="0.5"/>
<line y1="244.8" y2="244.8" x1="294.2" x2="493.5" stroke="#f5f5f5" stroke-width="0.5"/>
<line y1="291.4" y2="291.4" x1="294.2" x2="493.5" stroke="#f5f5f5" stroke-width="0.5"/>
<line y1="338.4" y2="338.4" x1="294.2" x2="493.5" stroke="#f5f5f5" stroke-width="0.5"/>
<line x1="331.8" x2="331.8" y1="218.2" y2="364.7" stroke="#eeeeee" stroke-width="0.7"/>
<line x1="331.8" x2="331.8" y1="364.7" y2="366.3" stroke="#6a6a6a" stroke-width="0.6"/>
<text class="tk" x="331.8" y="372.8" text-anchor="middle">0.6</text>
<line x1="382.3" x2="382.3" y1="218.2" y2="364.7" stroke="#eeeeee" stroke-width="0.7"/>
<line x1="382.3" x2="382.3" y1="364.7" y2="366.3" stroke="#6a6a6a" stroke-width="0.6"/>
<text class="tk" x="382.3" y="372.8" text-anchor="middle">0.9</text>
<line x1="433.8" x2="433.8" y1="218.2" y2="364.7" stroke="#eeeeee" stroke-width="0.7"/>
<line x1="433.8" x2="433.8" y1="364.7" y2="366.3" stroke="#6a6a6a" stroke-width="0.6"/>
<text class="tk" x="433.8" y="372.8" text-anchor="middle">1.2</text>
<line x1="484.6" x2="484.6" y1="218.2" y2="364.7" stroke="#eeeeee" stroke-width="0.7"/>
<line x1="484.6" x2="484.6" y1="364.7" y2="366.3" stroke="#6a6a6a" stroke-width="0.6"/>
<text class="tk" x="484.6" y="372.8" text-anchor="middle">1.5</text>
<line y1="221.5" y2="221.5" x1="294.2" x2="493.5" stroke="#eeeeee" stroke-width="0.7"/>
<line y1="221.5" y2="221.5" x1="292.59999999999997" x2="294.2" stroke="#6a6a6a" stroke-width="0.6"/>
<text class="tk" x="291.59999999999997" y="224.1" text-anchor="end">0.050</text>
<line y1="268.1" y2="268.1" x1="294.2" x2="493.5" stroke="#eeeeee" stroke-width="0.7"/>
<line y1="268.1" y2="268.1" x1="292.59999999999997" x2="294.2" stroke="#6a6a6a" stroke-width="0.6"/>
<text class="tk" x="291.59999999999997" y="270.7" text-anchor="end">0.025</text>
<line y1="315.1" y2="315.1" x1="294.2" x2="493.5" stroke="#eeeeee" stroke-width="0.7"/>
<line y1="315.1" y2="315.1" x1="292.59999999999997" x2="294.2" stroke="#6a6a6a" stroke-width="0.6"/>
<text class="tk" x="291.59999999999997" y="317.7" text-anchor="end">0.000</text>
<line y1="361.7" y2="361.7" x1="294.2" x2="493.5" stroke="#eeeeee" stroke-width="0.7"/>
<line y1="361.7" y2="361.7" x1="292.59999999999997" x2="294.2" stroke="#6a6a6a" stroke-width="0.6"/>
<text class="tk" x="291.59999999999997" y="364.3" text-anchor="end">-0.025</text>
<circle cx="307.2" cy="358.3" r="2.35" fill="#000"/>
<circle cx="308.5" cy="357.3" r="2.35" fill="#000"/>
<circle cx="309.7" cy="356.4" r="2.35" fill="#000"/>
<circle cx="314.5" cy="352.8" r="2.35" fill="#000"/>
<circle cx="315.8" cy="351.8" r="2.35" fill="#000"/>
<circle cx="317.1" cy="350.8" r="2.35" fill="#000"/>
<circle cx="318.3" cy="349.8" r="2.35" fill="#000"/>
<circle cx="319.6" cy="348.9" r="2.35" fill="#000"/>
<circle cx="320.9" cy="347.9" r="2.35" fill="#000"/>
<circle cx="322.2" cy="346.9" r="2.35" fill="#000"/>
<circle cx="323.5" cy="346.0" r="2.35" fill="#000"/>
<circle cx="327.8" cy="342.7" r="2.35" fill="#000"/>
<circle cx="329.2" cy="341.6" r="2.35" fill="#000"/>
<circle cx="330.5" cy="340.6" r="2.35" fill="#000"/>
<circle cx="331.9" cy="339.6" r="2.35" fill="#000"/>
<circle cx="333.2" cy="338.6" r="2.35" fill="#000"/>
<circle cx="334.6" cy="337.5" r="2.35" fill="#000"/>
<circle cx="335.9" cy="336.5" r="2.35" fill="#000"/>
<circle cx="337.3" cy="335.5" r="2.35" fill="#000"/>
<circle cx="338.6" cy="334.5" r="2.35" fill="#000"/>
<circle cx="340.0" cy="333.4" r="2.35" fill="#000"/>
<circle cx="341.3" cy="332.4" r="2.35" fill="#000"/>
<circle cx="342.7" cy="331.4" r="2.35" fill="#000"/>
<circle cx="344.0" cy="330.4" r="2.35" fill="#000"/>
<circle cx="350.5" cy="325.4" r="2.35" fill="#000"/>
<circle cx="351.9" cy="324.4" r="2.35" fill="#000"/>
<circle cx="353.3" cy="323.3" r="2.35" fill="#000"/>
<circle cx="354.7" cy="322.2" r="2.35" fill="#000"/>
<circle cx="356.1" cy="321.2" r="2.35" fill="#000"/>
<circle cx="357.5" cy="320.1" r="2.35" fill="#000"/>
<circle cx="358.9" cy="319.1" r="2.35" fill="#000"/>
<circle cx="360.3" cy="318.0" r="2.35" fill="#000"/>
<circle cx="361.7" cy="316.9" r="2.35" fill="#000"/>
<circle cx="363.1" cy="315.9" r="2.35" fill="#000"/>
<circle cx="364.5" cy="314.8" r="2.35" fill="#000"/>
<circle cx="365.9" cy="313.7" r="2.35" fill="#000"/>
<circle cx="367.3" cy="312.7" r="2.35" fill="#000"/>
<circle cx="368.7" cy="311.6" r="2.35" fill="#000"/>
<circle cx="370.1" cy="310.6" r="2.35" fill="#000"/>
<circle cx="371.5" cy="309.5" r="2.35" fill="#000"/>
<circle cx="372.9" cy="308.4" r="2.35" fill="#000"/>
<circle cx="374.3" cy="307.4" r="2.35" fill="#000"/>
<circle cx="375.7" cy="306.3" r="2.35" fill="#000"/>
<circle cx="377.1" cy="305.2" r="2.35" fill="#000"/>
<circle cx="378.5" cy="304.2" r="2.35" fill="#000"/>
<circle cx="379.9" cy="303.1" r="2.35" fill="#000"/>
<circle cx="381.3" cy="302.1" r="2.35" fill="#000"/>
<circle cx="382.7" cy="301.0" r="2.35" fill="#000"/>
<circle cx="384.1" cy="299.9" r="2.35" fill="#000"/>
<circle cx="385.5" cy="298.9" r="2.35" fill="#000"/>
<circle cx="386.9" cy="297.8" r="2.35" fill="#000"/>
<circle cx="388.3" cy="296.7" r="2.35" fill="#000"/>
<circle cx="389.7" cy="295.7" r="2.35" fill="#000"/>
<circle cx="391.1" cy="294.6" r="2.35" fill="#000"/>
<circle cx="392.5" cy="293.6" r="2.35" fill="#000"/>
<circle cx="393.9" cy="292.5" r="2.35" fill="#000"/>
<circle cx="395.3" cy="291.4" r="2.35" fill="#000"/>
<circle cx="396.7" cy="290.4" r="2.35" fill="#000"/>
<circle cx="398.1" cy="289.3" r="2.35" fill="#000"/>
<circle cx="399.5" cy="288.2" r="2.35" fill="#000"/>
<circle cx="400.9" cy="287.2" r="2.35" fill="#000"/>
<circle cx="402.3" cy="286.1" r="2.35" fill="#000"/>
<circle cx="403.7" cy="285.1" r="2.35" fill="#000"/>
<circle cx="405.1" cy="284.0" r="2.35" fill="#000"/>
<circle cx="406.5" cy="282.9" r="2.35" fill="#000"/>
<circle cx="407.9" cy="281.9" r="2.35" fill="#000"/>
<circle cx="409.3" cy="280.8" r="2.35" fill="#000"/>
<circle cx="410.7" cy="279.7" r="2.35" fill="#000"/>
<circle cx="333.0" cy="338.7" r="2.2" fill="none" stroke="#6e6e6e" stroke-width="0.75"/>
<circle cx="347.9" cy="327.4" r="2.2" fill="none" stroke="#6e6e6e" stroke-width="0.75"/>
<circle cx="372.0" cy="309.1" r="2.2" fill="none" stroke="#6e6e6e" stroke-width="0.75"/>
<circle cx="395.0" cy="291.7" r="2.2" fill="none" stroke="#6e6e6e" stroke-width="0.75"/>
<polygon points="335.4,325.0 332.5,330.0 338.3,330.0" fill="#000"/>
<polygon points="337.4,324.0 334.5,329.0 340.3,329.0" fill="#000"/>
<polygon points="338.8,322.8 335.9,327.8 341.7,327.8" fill="#000"/>
<polygon points="340.8,321.4 337.9,326.4 343.7,326.4" fill="#000"/>
<polygon points="342.8,320.3 339.9,325.3 345.7,325.3" fill="#000"/>
<polygon points="344.8,319.2 341.9,324.2 347.7,324.2" fill="#000"/>
<polygon points="346.0,318.2 343.1,323.2 348.9,323.2" fill="#000"/>
<polygon points="347.5,317.0 344.6,322.0 350.4,322.0" fill="#000"/>
<polygon points="348.7,316.5 345.8,321.5 351.6,321.5" fill="#000"/>
<polygon points="350.1,315.8 347.2,320.8 353.0,320.8" fill="#000"/>
<polygon points="352.1,314.4 349.2,319.4 355.0,319.4" fill="#000"/>
<polygon points="354.1,312.7 351.2,317.7 357.0,317.7" fill="#000"/>
<polygon points="356.1,311.4 353.2,316.4 359.0,316.4" fill="#000"/>
<polygon points="357.3,310.7 354.4,315.7 360.2,315.7" fill="#000"/>
<polygon points="358.8,310.0 355.9,315.0 361.7,315.0" fill="#000"/>
<polygon points="360.2,308.9 357.3,313.9 363.1,313.9" fill="#000"/>
<polygon points="362.2,307.9 359.3,312.9 365.1,312.9" fill="#000"/>
<polygon points="364.2,306.3 361.3,311.3 367.1,311.3" fill="#000"/>
<polygon points="366.0,305.3 363.1,310.3 368.9,310.3" fill="#000"/>
<polygon points="367.2,304.5 364.3,309.5 370.1,309.5" fill="#000"/>
<polygon points="369.0,303.3 366.1,308.3 371.9,308.3" fill="#000"/>
<polygon points="371.0,302.3 368.1,307.3 373.9,307.3" fill="#000"/>
<polygon points="372.2,301.4 369.3,306.4 375.1,306.4" fill="#000"/>
<polygon points="374.0,300.3 371.1,305.3 376.9,305.3" fill="#000"/>
<polygon points="376.0,298.7 373.1,303.7 378.9,303.7" fill="#000"/>
<polygon points="377.2,298.1 374.3,303.1 380.1,303.1" fill="#000"/>
<polygon points="378.4,297.2 375.5,302.2 381.3,302.2" fill="#000"/>
<polygon points="380.2,296.0 377.3,301.0 383.1,301.0" fill="#000"/>
<polygon points="381.4,295.5 378.5,300.5 384.3,300.5" fill="#000"/>
<polygon points="382.6,294.4 379.7,299.4 385.5,299.4" fill="#000"/>
<polygon points="383.8,293.7 380.9,298.7 386.7,298.7" fill="#000"/>
<polygon points="385.2,292.8 382.3,297.8 388.1,297.8" fill="#000"/>
<polygon points="387.2,291.6 384.3,296.6 390.1,296.6" fill="#000"/>
<polygon points="389.0,290.3 386.1,295.3 391.9,295.3" fill="#000"/>
<polygon points="390.8,289.1 387.9,294.1 393.7,294.1" fill="#000"/>
<polygon points="392.2,288.5 389.3,293.5 395.1,293.5" fill="#000"/>
<polygon points="393.4,287.3 390.5,292.3 396.3,292.3" fill="#000"/>
<polygon points="394.6,286.5 391.7,291.5 397.5,291.5" fill="#000"/>
<polygon points="396.0,286.0 393.1,291.0 398.9,291.0" fill="#000"/>
<polygon points="397.5,285.0 394.6,290.0 400.4,290.0" fill="#000"/>
<polygon points="399.0,283.9 396.1,288.9 401.9,288.9" fill="#000"/>
<polygon points="400.5,283.2 397.6,288.2 403.4,288.2" fill="#000"/>
<polygon points="402.0,281.9 399.1,286.9 404.9,286.9" fill="#000"/>
<polygon points="403.4,280.8 400.5,285.8 406.3,285.8" fill="#000"/>
<polygon points="404.8,280.5 401.9,285.5 407.7,285.5" fill="#000"/>
<polygon points="302.9,346.1 300.0,351.1 305.8,351.1" fill="#000"/>
<polygon points="308.3,342.6 305.4,347.6 311.2,347.6" fill="#000"/>
<polygon points="321.3,334.2 318.4,339.2 324.2,339.2" fill="#000"/>
<polygon points="324.8,331.9 321.9,336.9 327.7,336.9" fill="#000"/>
<polygon points="334.1,325.9 331.2,330.9 337.0,330.9" fill="#000"/>
<polygon points="409.3,277.3 406.4,282.3 412.2,282.3" fill="#000"/>
<polygon points="415.9,273.0 413.0,278.0 418.8,278.0" fill="#000"/>
<polygon points="426.4,266.2 423.5,271.2 429.3,271.2" fill="#000"/>
<circle cx="419.4" cy="273.8" r="2.35" fill="#000"/>
<circle cx="414.0" cy="277.5" r="2.35" fill="#000"/>
<circle cx="429.4" cy="267.40000000000003" r="2.2" fill="none" stroke="#6e6e6e" stroke-width="0.75"/>
<polygon points="312.3,339.6 309.0,345.3 315.6,345.3" fill="none" stroke="#6e6e6e" stroke-width="0.75"/>
<polygon points="316.6,336.8 313.3,342.5 319.9,342.5" fill="none" stroke="#6e6e6e" stroke-width="0.75"/>
<polygon points="328.6,329.1 325.3,334.8 331.9,334.8" fill="none" stroke="#6e6e6e" stroke-width="0.75"/>
<polygon points="331.6,327.1 328.3,332.8 334.9,332.8" fill="none" stroke="#6e6e6e" stroke-width="0.75"/>
<polygon points="352.0,313.9 348.7,319.6 355.3,319.6" fill="none" stroke="#6e6e6e" stroke-width="0.75"/>
<polygon points="377.0,297.8 373.7,303.5 380.3,303.5" fill="none" stroke="#6e6e6e" stroke-width="0.75"/>
<polygon points="399.0,283.5 395.7,289.2 402.3,289.2" fill="none" stroke="#6e6e6e" stroke-width="0.75"/>
<polygon points="424.4,267.1 421.1,272.8 427.7,272.8" fill="none" stroke="#6e6e6e" stroke-width="0.75"/>
<polygon points="434.9,260.3 431.6,266.0 438.2,266.0" fill="none" stroke="#6e6e6e" stroke-width="0.75"/>
<polygon points="456.2,246.5 452.9,252.2 459.5,252.2" fill="none" stroke="#6e6e6e" stroke-width="0.75"/>
<circle cx="483.5" cy="225.1" r="2.35" fill="#000"/>
<rect x="294.2" y="218.2" width="199.3" height="146.5" fill="none" stroke="#b6b6b6" stroke-width="0.8"/>
 <text class="ti" x="393.2" y="383.6" text-anchor="middle">Log(Centroid Size)</text>
<text class="ti" style="font-size:7.4px" transform="translate(268.8,292.1) rotate(-90)" text-anchor="middle">UB Shape(Predicted)</text>
</g>
<circle cx="511.7" cy="73.2" r="3.75" fill="none" stroke="#555" stroke-width="0.9"/>
<polygon points="511.7,79.9 506.4,88.8 517.0,88.8" fill="none" stroke="#555" stroke-width="0.9"/>
<circle cx="511.7" cy="98.3" r="4.3" fill="#000"/>
<polygon points="511.7,104.7 506.59999999999997,113.2 516.8,113.2" fill="#000"/>
<text class="lg" x="519.8" y="76.3">F−A</text>
<text class="lg" x="519.8" y="89.0">F−B</text>
<text class="lg" x="519.8" y="101.5">M−A</text>
<text class="lg" x="519.8" y="113.1">M−B</text>
<circle cx="511.7" cy="283.2" r="3.75" fill="none" stroke="#555" stroke-width="0.9"/>
<polygon points="511.7,289.9 506.4,298.8 517.0,298.8" fill="none" stroke="#555" stroke-width="0.9"/>
<circle cx="511.7" cy="308.3" r="4.3" fill="#000"/>
<polygon points="511.7,314.7 506.59999999999997,323.2 516.8,323.2" fill="#000"/>
<text class="lg" x="519.8" y="286.3">F−A</text>
<text class="lg" x="519.8" y="299.0">F−B</text>
<text class="lg" x="519.8" y="311.5">M−A</text>
<text class="lg" x="519.8" y="323.1">M−B</text>
<text class="cap" x="271.3" y="203" text-anchor="middle">(<tspan font-weight="bold">c</tspan>)</text>
<text class="cap" x="271.2" y="412.5" text-anchor="middle">(<tspan font-weight="bold">d</tspan>)</text>
</svg></body></html>
